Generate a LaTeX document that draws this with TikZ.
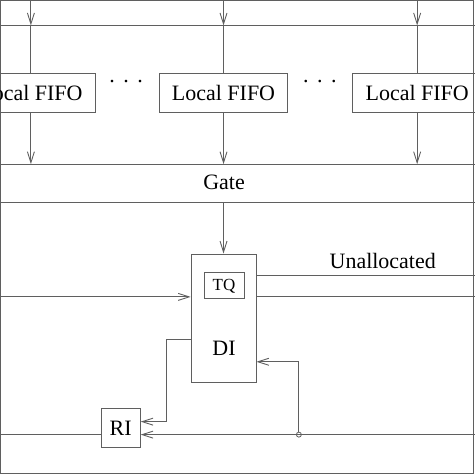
\documentclass[tikz,border=0pt]{standalone}
\usepackage{fontspec}
\setmainfont{Liberation Serif}
\usetikzlibrary{arrows.meta}
\definecolor{lc}{RGB}{95,95,95}
\begin{document}
\begin{tikzpicture}[x=1pt,y=-1pt,
  every path/.style={draw=lc, line width=0.9pt},
  txt/.style={font=\fontsize{22}{26}\selectfont, inner sep=0pt},
  box/.style={draw=lc, line width=0.9pt, inner sep=0pt, font=\fontsize{22}{26}\selectfont},
  arr/.style={-{Straight Barb[length=11pt,width=7pt,line width=0.9pt]}}]
\useasboundingbox (0,0) rectangle (474,474);
% FIFO boxes
\node[box, minimum width=129pt, minimum height=39pt] (f1) at (30.5,92.5) {Local FIFO};
\node[box, minimum width=129pt, minimum height=39pt] (f2) at (223.5,92.5) {Local FIFO};
\node[box, minimum width=129pt, minimum height=39pt] (f3) at (417.5,92.5) {Local FIFO};
\node[txt, anchor=base] (d1) at (126,82) {.\hspace{8.5pt}.\hspace{8.5pt}.};
\node[txt, anchor=base] (d2) at (320,82) {.\hspace{8.5pt}.\hspace{8.5pt}.};
% top bus
\coordinate (tl) at (-5,25);
\coordinate (tr) at (480,25);
\draw (tl) -- (tr);
\foreach \n in {1,2,3} {
  \coordinate (t\n) at (f\n.north |- 0,-5);
  \draw[arr] (t\n) -- (t\n |- tl);
  \draw (t\n |- tl) -- (f\n.north);
}
% gate
\coordinate (g1l) at (-5,164);
\coordinate (g1r) at (480,164);
\coordinate (g2l) at (-5,202);
\coordinate (g2r) at (480,202);
\draw (g1l) -- (g1r);
\draw (g2l) -- (g2r);
\node[txt] (gate) at (224,182) {Gate};
\foreach \n in {1,2,3} {
  \draw[arr] (f\n.south) -- (f\n.south |- g1l);
}
% DI box
\node[box, minimum width=65pt, minimum height=129pt] (di) at (223.5,318.5) {};
\node[txt] (dit) at (224,349) {DI};
\node[box, minimum width=40pt, minimum height=26pt, font=\fontsize{17}{20}\selectfont] (tq) at (224,286) {TQ};
\draw[arr] (di.north |- g2l) -- (di.north);
% right lines
\coordinate (u1) at (480,276);
\coordinate (u2) at (480,297);
\draw (di.east |- u1) -- (u1);
\draw (di.east |- u2) -- (u2);
\node[txt] (un) at (383,261) {Unallocated};
% left input
\coordinate (l1) at (-5,297);
\draw[arr] (l1) -- (l1 -| di.west);
% RI
\node[box, minimum width=39pt, minimum height=39pt] (ri) at (120.5,428.5) {RI};
\coordinate (k1) at (166,340);
\coordinate (k2) at (166,422);
\draw[arr] (k1 -| di.west) -- (k1) -- (k2) -- (k2 -| ri.east);
% bottom line
\coordinate (b0) at (-5,435);
\coordinate (b1) at (480,435);
\draw (b0) -- (b0 -| ri.west);
\draw[arr] (b1) -- (b1 -| ri.east);
\node[draw=lc, circle, inner sep=0pt, minimum size=5pt, line width=0.8pt] (tap) at (299,435) {};
\coordinate (c1) at (299,362);
\draw[arr] (tap.north) -- (c1) -- (c1 -| di.east);
\end{tikzpicture}
\end{document}
